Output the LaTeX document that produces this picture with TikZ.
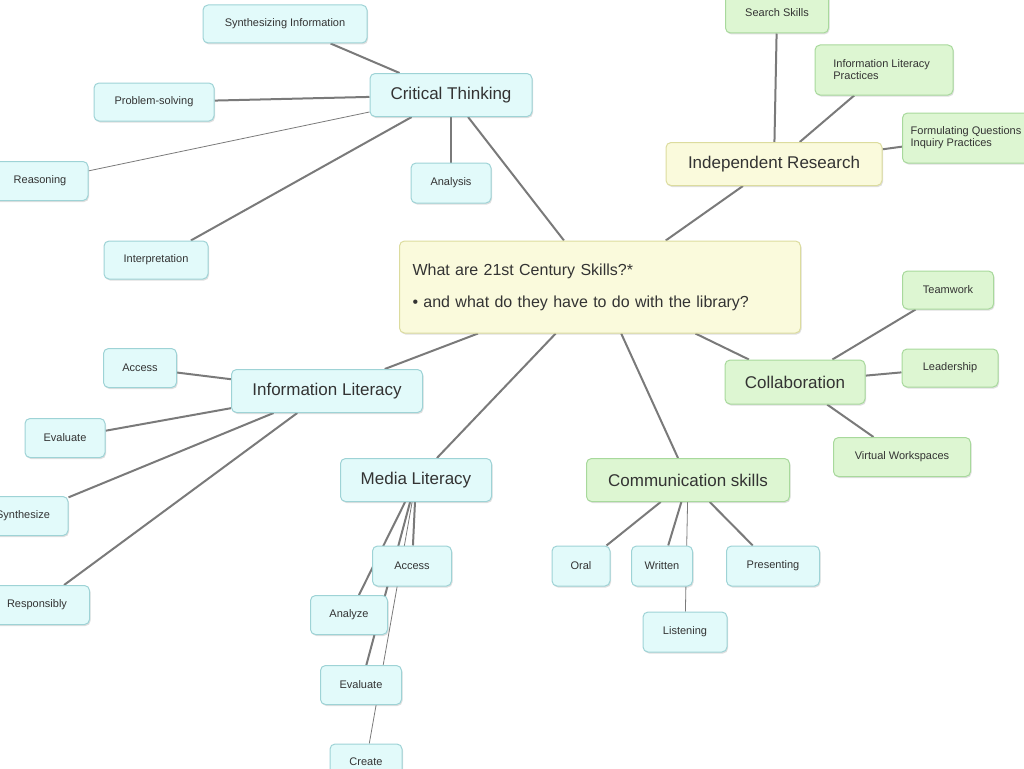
\documentclass[tikz,border=0pt]{standalone}
\usepackage{fontspec}
\setmainfont{Liberation Sans}
\usetikzlibrary{backgrounds,shadows}
\definecolor{cyf}{HTML}{E2FAFA}\definecolor{cyd}{HTML}{9ED3D6}
\definecolor{grf}{HTML}{DDF6D2}\definecolor{grd}{HTML}{A8D99C}
\definecolor{yef}{HTML}{FAFADC}\definecolor{yed}{HTML}{DCDC9E}
\definecolor{ln}{HTML}{7A7A7A}
\begin{document}
\begin{tikzpicture}[x=1pt,y=-1pt,
 box/.style={draw,rounded corners=5pt,line width=1pt,inner sep=0pt,align=center,text=black!80,
   drop shadow={shadow xshift=1pt,shadow yshift=-1.5pt,opacity=0.25}},
 leaf/.style={box,fill=cyf,draw=cyd,font=\fontsize{11}{13}\selectfont},
 gleaf/.style={box,fill=grf,draw=grd,font=\fontsize{11}{12}\selectfont},
 main/.style={box,fill=cyf,draw=cyd,font=\fontsize{17}{19}\selectfont},
 gmain/.style={box,fill=grf,draw=grd,font=\fontsize{17}{19}\selectfont},
 e/.style={draw=ln,line width=2pt},
 t/.style={draw=ln,line width=0.8pt}]
\useasboundingbox (0,0) rectangle (1024,768);
\clip (0,0) rectangle (1024,768);
\node[box,fill=yef,draw=yed,minimum width=401,minimum height=92,text width=375,align=left,font=\fontsize{16}{18}\selectfont] (c) at (600,287)
 {What are 21st Century Skills?*\\[14pt]• and what do they have to do with the library?};
\node[main,minimum width=162,minimum height=43] (ct) at (451,95) {Critical Thinking};
\node[leaf,minimum width=164,minimum height=38] (si) at (285,24) {Synthesizing Information};
\node[leaf,minimum width=120,minimum height=38] (ps) at (154,102) {Problem-solving};
\node[leaf,minimum width=96,minimum height=39] (re) at (40,181) {Reasoning};
\node[leaf,minimum width=80,minimum height=40] (an) at (451,183) {Analysis};
\node[leaf,minimum width=104,minimum height=38] (in) at (156,260) {Interpretation};
\node[gmain,fill=yef,draw=yed,minimum width=216,minimum height=43] (ir) at (774,164) {Independent Research};
\node[gleaf,minimum width=103,minimum height=40] (ss) at (777,13) {Search Skills};
\node[gleaf,minimum width=138,minimum height=50,align=left] (ilp) at (884,70) {Information Literacy\\Practices\hspace*{56pt}};
\node[gleaf,minimum width=127,minimum height=50,align=left] (fq) at (966,138) {Formulating Questions\\Inquiry Practices\hspace*{28pt}};
\node[gmain,minimum width=140,minimum height=44] (co) at (795,382) {Collaboration};
\node[gleaf,minimum width=91,minimum height=38] (tw) at (948,290) {Teamwork};
\node[gleaf,minimum width=96,minimum height=38] (le) at (950,368) {Leadership};
\node[gleaf,minimum width=137,minimum height=39] (vw) at (902,457) {Virtual Workspaces};
\node[main,minimum width=191,minimum height=43] (il) at (327,391) {Information Literacy};
\node[leaf,minimum width=73,minimum height=39] (ac1) at (140,368) {Access};
\node[leaf,minimum width=80,minimum height=39] (ev1) at (65,438) {Evaluate};
\node[leaf,minimum width=90,minimum height=39] (sy) at (23,516) {Synthesize};
\node[leaf,minimum width=105,minimum height=39] (rs) at (37,605) {Responsibly};
\node[main,minimum width=151,minimum height=43] (ml) at (416,480) {Media Literacy};
\node[leaf,minimum width=79,minimum height=40] (ac2) at (412,566) {Access};
\node[leaf,minimum width=77,minimum height=39] (az) at (349,615) {Analyze};
\node[leaf,minimum width=81,minimum height=39] (ev2) at (361,685) {Evaluate};
\node[leaf,minimum width=72,minimum height=36] (cr) at (366,762) {Create};
\node[gmain,minimum width=203,minimum height=43] (cs) at (688,480) {Communication skills};
\node[leaf,minimum width=58,minimum height=40] (or) at (581,566) {Oral};
\node[leaf,minimum width=61,minimum height=40] (wr) at (662,566) {Written};
\node[leaf,minimum width=93,minimum height=40] (pr) at (773,566) {Presenting};
\node[leaf,minimum width=84,minimum height=40] (li) at (685,632) {Listening};
\begin{scope}[on background layer]
\draw[e] (c) -- (ct); \draw[e] (c) -- (ir); \draw[e] (c) -- (co);
\draw[e] (c) -- (il); \draw[e] (c) -- (ml); \draw[e] (c) -- (cs);
\draw[e] (ct) -- (si); \draw[e] (ct) -- (ps); \draw[t] (ct) -- (re);
\draw[e] (ct) -- (an); \draw[e] (ct) -- (in);
\draw[e] (ir) -- (ss); \draw[e] (ir) -- (ilp); \draw[e] (ir) -- (fq);
\draw[e] (co) -- (tw); \draw[e] (co) -- (le); \draw[e] (co) -- (vw);
\draw[e] (il) -- (ac1); \draw[e] (il) -- (ev1); \draw[e] (il) -- (sy); \draw[e] (il) -- (rs);
\draw[e] (ml) -- (ac2); \draw[e] (ml) -- (az); \draw[e] (ml) -- (ev2); \draw[t] (ml) -- (cr);
\draw[e] (cs) -- (or); \draw[e] (cs) -- (wr); \draw[e] (cs) -- (pr); \draw[t] (cs) -- (li);
\end{scope}
\end{tikzpicture}
\end{document}
